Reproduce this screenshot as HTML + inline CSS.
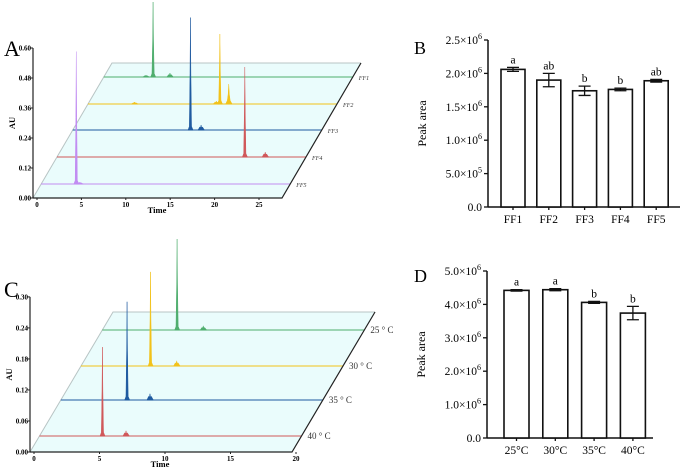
<!DOCTYPE html>
<html><head><meta charset="utf-8"><style>
html,body{margin:0;padding:0;background:#fff}
svg{display:block;font-family:"Liberation Serif",serif}
</style></head><body>
<svg id="fig" width="685" height="470" viewBox="0 0 685 470" xmlns="http://www.w3.org/2000/svg">
<text x="4" y="56" font-size="22">A</text>
<text x="414" y="54" font-size="18">B</text>
<text x="4" y="297" font-size="22">C</text>
<text x="414" y="282" font-size="18">D</text>
<g id="gA"></g>
<g id="gC"></g>
<g id="gB"></g>
<g id="gD"></g>
</svg>
<script>
// ---- Panel A data ----
const aSeries = ["FF1","FF2","FF3","FF4","FF5"];
const aColors = ["#4fae6e","#f2c21a","#1f5aa0","#d0585a","#c18cf2"];
const aPeakTimes = [[4.3,5.1,7.0],[4.8,14.0,14.4,15.4],[12.8,14.0],[20.7,23.0],[3.5,3.9]];
const aPeakHeights = [[0.008,0.30,0.016],[0.008,0.012,0.28,0.08],[0.45,0.02],[0.36,0.02],[0.53,0.008]];
const aYTicks = [0,0.12,0.24,0.36,0.48,0.60];
const aXTicks = [0,5,10,15,20,25];
// ---- Panel C data ----
const cSeries = ["25 ° C","30 ° C","35 ° C","40 ° C"];
const cColors = ["#4fae6e","#f2c21a","#1f5aa0","#d0585a"];
const cPeakTimes = [[5.4,7.4],[5.0,7.0],[4.75,6.5],[4.5,6.3]];
const cPeakHeights = [[0.176,0.008],[0.182,0.01],[0.19,0.012],[0.172,0.01]];
const cYTicks = [0,0.06,0.12,0.18,0.24,0.30];
const cXTicks = [0,5,10,15,20];
// ---- Panel B data ----
const bCats = ["FF1","FF2","FF3","FF4","FF5"];
const bVals = [2.06,1.90,1.74,1.76,1.89];
const bErrs = [0.03,0.10,0.07,0.02,0.02];
const bSig = ["a","ab","b","b","ab"];
const bTicks = [0,0.5,1.0,1.5,2.0,2.5];
const bTickLabels = [["0.0",""],["5.0×10","5"],["1.0×10","6"],["1.5×10","6"],["2.0×10","6"],["2.5×10","6"]];
// ---- Panel D data ----
const dCats = ["25°C","30°C","35°C","40°C"];
const dVals = [4.42,4.44,4.06,3.74];
const dErrs = [0.02,0.03,0.03,0.20];
const dSig = ["a","a","b","b"];
const dTicks = [0,1,2,3,4,5];
const dTickLabels = [["0.0",""],["1.0×10","6"],["2.0×10","6"],["3.0×10","6"],["4.0×10","6"],["5.0×10","6"]];

const NS="http://www.w3.org/2000/svg";
function el(tag,attrs,parent,text){const e=document.createElementNS(NS,tag);for(const k in attrs)e.setAttribute(k,attrs[k]);if(text!==undefined)e.textContent=text;parent.appendChild(e);return e;}

function chrom(g,cfg){
  const {x0,yFront,yBack,xFrontEnd,slope,pxPerT,pxPerAU,series,colors,times,heights,yTicks,xTicks,baseYs,labelFont}=cfg;
  const dyBack=yFront-yBack;
  const floor=el('polygon',{points:`${x0},${yFront} ${xFrontEnd},${yFront} ${xFrontEnd+dyBack*slope},${yBack} ${x0+dyBack*slope},${yBack}`,fill:'#eafcfc',stroke:'none'},g);
  
  
  const back=el('polyline',{points:`${x0},${yFront} ${x0+dyBack*slope},${yBack} ${xFrontEnd+dyBack*slope},${yBack}`,fill:'none',stroke:'#b8c4c4','stroke-width':1},g);
  
  
  series.forEach((s,i)=>{
    const by=baseYs[i];const off=(yFront-by)*slope;
    const xs=t=>x0+4+off+t*pxPerT;
    const bl=el('line',{x1:x0+off,y1:by,x2:xFrontEnd+off,y2:by,stroke:colors[i],'stroke-width':1.2,opacity:0.8},g);
    
    
    times[i].forEach((t,j)=>{
      const px=xs(t);const h=heights[i][j]*pxPerAU;const w=h>20?1.1:1.4;
      const d=`M${px-w*2.2},${by} L${px-w},${by-Math.min(h,6)*0.6} L${px-w*0.4},${by-h*0.5} L${px},${by-h} L${px+w*0.4},${by-h*0.5} L${px+w},${by-Math.min(h,6)*0.6} L${px+w*2.4},${by} Z`;
      const p=el('path',{d,fill:colors[i],stroke:colors[i],'stroke-width':0.5},g);
      
      
    });
    const lab=el('text',{x:xFrontEnd+off+6,y:by+3,'font-size':labelFont,'font-style':cfg.italic?'italic':'normal',fill:'#333'},g,s);
    
    
  });
  const fe=el('polyline',{points:`${x0},${yFront} ${xFrontEnd},${yFront} ${xFrontEnd+dyBack*slope},${yBack}`,fill:'none',stroke:'#222','stroke-width':1.2},g);
  
  
  const topY=yFront-yTicks[yTicks.length-1]*pxPerAU;
  const ya=el('line',{x1:x0,y1:yFront,x2:x0,y2:topY,stroke:'#222','stroke-width':1.2},g);
  
  
  yTicks.forEach(v=>{const y=yFront-v*pxPerAU;
    el('line',{x1:x0-3,y1:y,x2:x0,y2:y,stroke:'#222'},g);
    const t=el('text',{x:x0-2,y:y+2.5,'font-size':7,'font-weight':'bold','text-anchor':'end'},g,v.toFixed(2));
    
    });
  xTicks.forEach(v=>{const x=x0+4+v*pxPerT;
    el('line',{x1:x,y1:yFront,x2:x,y2:yFront+2,stroke:'#222'},g);
    const t=el('text',{x:x,y:yFront+9,'font-size':7,'font-weight':'bold','text-anchor':'middle'},g,String(v));
    
    });
  const xt=el('text',{x:cfg.timeX,y:yFront+15,'font-size':8.5,'font-weight':'bold','text-anchor':'middle'},g,'Time');
  
  
  const cy=(yFront+topY)/2;
  const yt=el('text',{x:x0-18,y:cy,'font-size':8.5,'font-weight':'bold','text-anchor':'middle',transform:`rotate(-90 ${x0-18} ${cy})`},g,'AU');
  
  
}

chrom(document.getElementById('gA'),{x0:33,yFront:198,yBack:63,xFrontEnd:282,slope:0.585,pxPerT:8.88,pxPerAU:250,
  series:aSeries,colors:aColors,times:aPeakTimes,heights:aPeakHeights,yTicks:aYTicks,xTicks:aXTicks,
  baseYs:[77,104,130,157,184],labelFont:6,italic:true,timeX:157});
chrom(document.getElementById('gC'),{x0:30,yFront:452,yBack:312,xFrontEnd:292,slope:0.593,pxPerT:13.1,pxPerAU:517,
  series:cSeries,colors:cColors,times:cPeakTimes,heights:cPeakHeights,yTicks:cYTicks,xTicks:cXTicks,
  baseYs:[330,366,400,436],labelFont:9,italic:false,timeX:160});

function bars(g,cfg){
  const {axX,y0,yTop,maxV,cats,vals,errs,sig,ticks,tickLabels,x1,bw,step,xEnd}=cfg;
  const ys=v=>y0-(v/maxV)*(y0-yTop);
  const ya=el('line',{x1:axX,y1:y0,x2:axX,y2:yTop,stroke:'#111','stroke-width':1.5},g);
  
  
  const xa=el('line',{x1:axX,y1:y0,x2:xEnd,y2:y0,stroke:'#111','stroke-width':1.5},g);
  
  
  ticks.forEach((v,i)=>{const y=ys(v);
    el('line',{x1:axX-4,y1:y,x2:axX,y2:y,stroke:'#111','stroke-width':1.3},g);
    const t=el('text',{x:axX-6,y:y+4,'font-size':11.5,'text-anchor':'end'},g);
    
    
    el('tspan',{},t,tickLabels[i][0]);
    if(tickLabels[i][1]){el('tspan',{'font-size':8,dy:-5},t,tickLabels[i][1]);}
  });
  const cy=(y0+yTop)/2;
  const yt=el('text',{x:axX-62,y:cy,'font-size':12,'text-anchor':'middle',transform:`rotate(-90 ${axX-62} ${cy})`},g,'Peak area');
  
  
  cats.forEach((c,i)=>{
    const cx=x1+i*step;const yv=ys(vals[i]);
    const r=el('rect',{x:cx-bw/2,y:yv,width:bw,height:y0-yv,fill:'#fff',stroke:'#111','stroke-width':1.6},g);
    
    
    const ye=ys(vals[i]+errs[i]),yl=ys(vals[i]-errs[i]);
    const e=el('path',{d:`M${cx},${yl} L${cx},${ye} M${cx-6},${ye} L${cx+6},${ye} M${cx-6},${yl} L${cx+6},${yl}`,stroke:'#111','stroke-width':1.3,fill:'none'},g);
    
    
    const s=el('text',{x:cx,y:ye-4,'font-size':11.5,'text-anchor':'middle'},g,sig[i]);
    
    
    el('line',{x1:cx,y1:y0,x2:cx,y2:y0+3,stroke:'#111','stroke-width':1.3},g);
    const l=el('text',{x:cx,y:y0+16,'font-size':11.5,'text-anchor':'middle'},g,c);
    
    
  });
}
bars(document.getElementById('gB'),{axX:488,y0:207,yTop:40,maxV:2.5,cats:bCats,vals:bVals,errs:bErrs,sig:bSig,
  ticks:bTicks,tickLabels:bTickLabels,x1:513,bw:24,step:35.8,xEnd:680});
bars(document.getElementById('gD'),{axX:487,y0:438,yTop:271,maxV:5,cats:dCats,vals:dVals,errs:dErrs,sig:dSig,
  ticks:dTicks,tickLabels:dTickLabels,x1:516.5,bw:25,step:38.8,xEnd:653});
</script>
</body></html>
